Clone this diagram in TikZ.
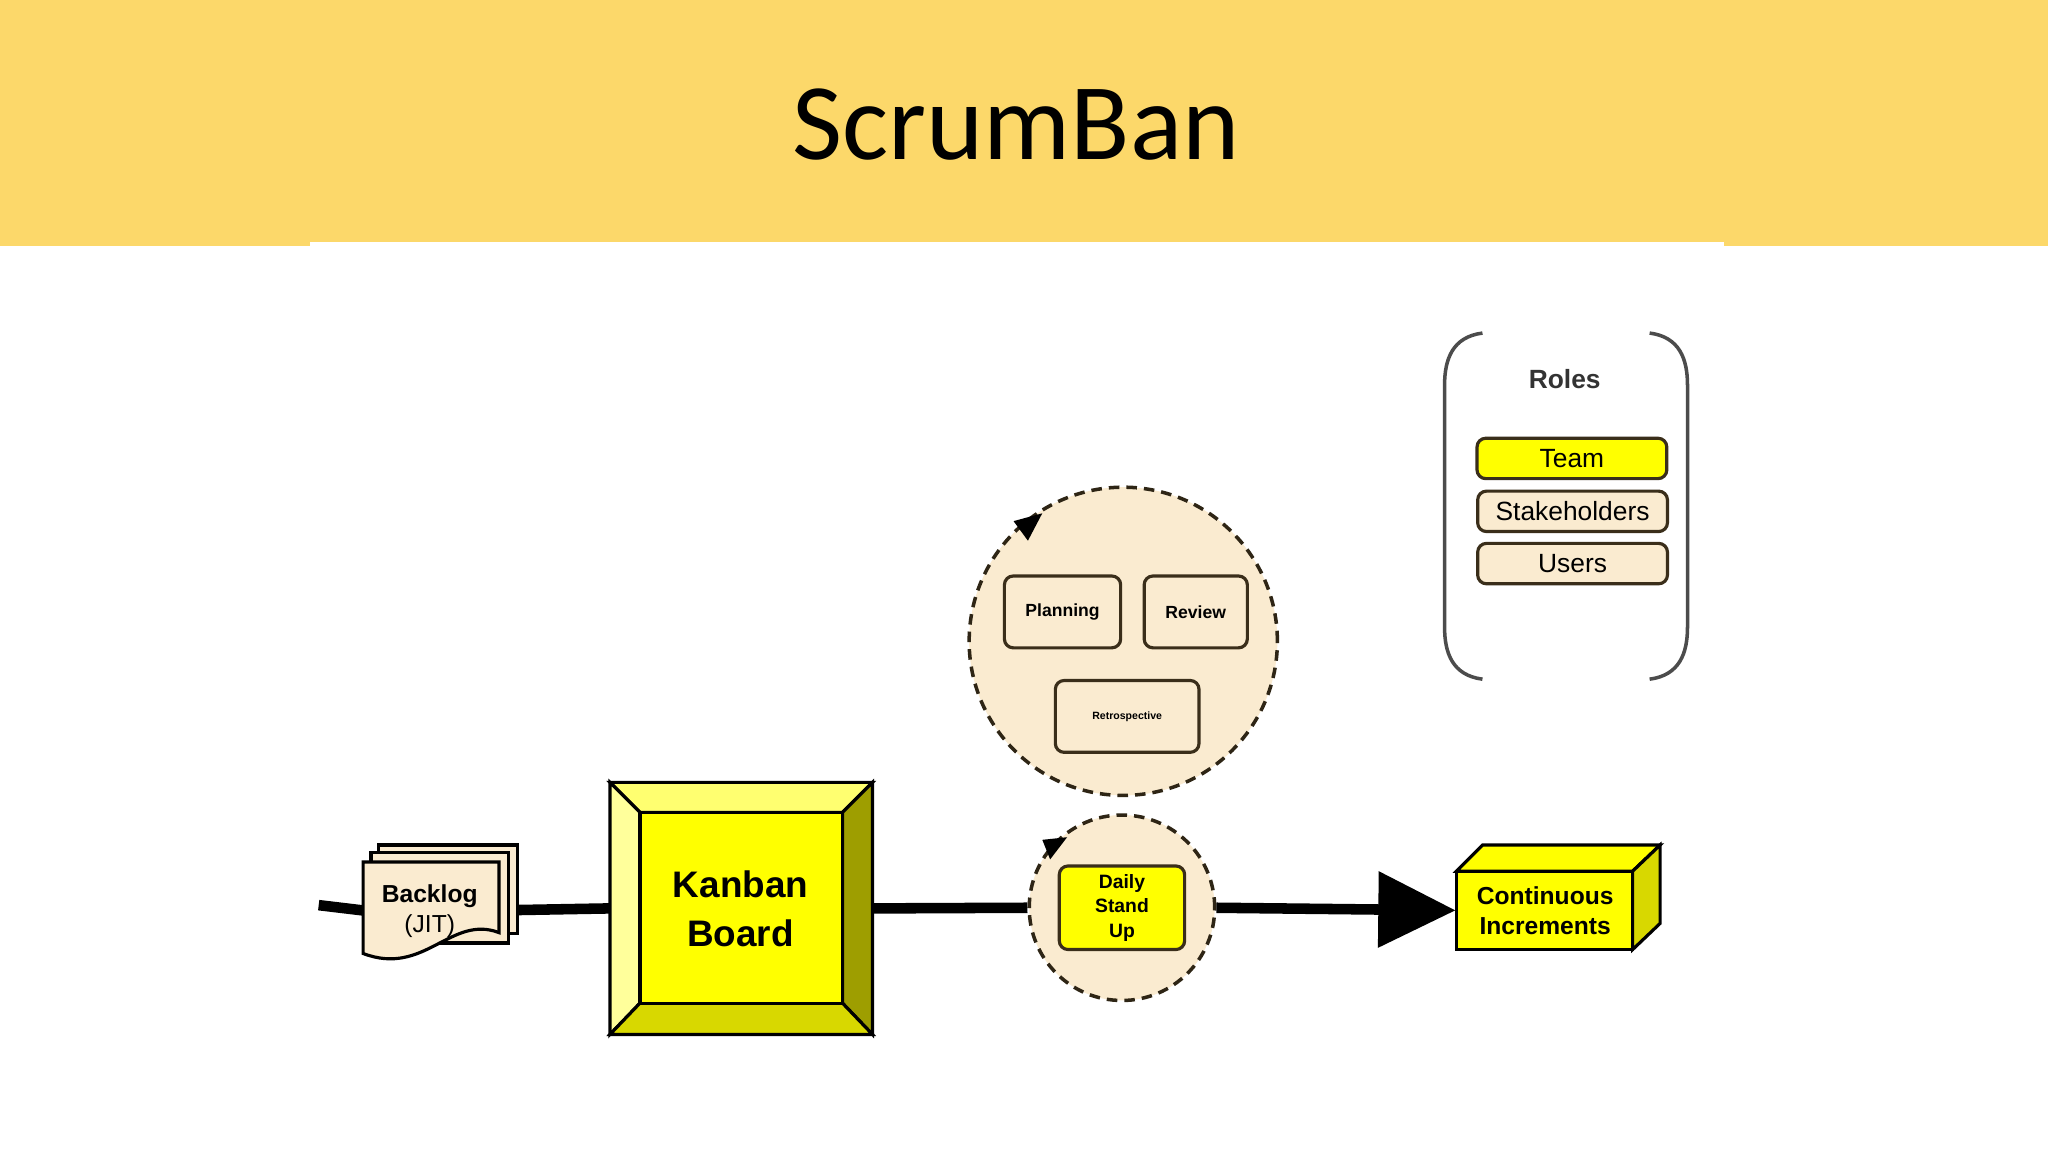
\documentclass[tikz,border=0pt]{standalone}
\usepackage{fontspec}
\setmainfont{Liberation Sans}
\newfontfamily\titlefont{Carlito}
\usetikzlibrary{arrows.meta}
\definecolor{hdr}{HTML}{FCD86A}
\definecolor{beige}{HTML}{FAEBD0}
\definecolor{ylw}{HTML}{FFFF00}
\definecolor{ylwlt}{HTML}{FFFF70}
\definecolor{ylwmid}{HTML}{D8D800}
\definecolor{ylwdk}{HTML}{9E9E00}
\definecolor{brd}{HTML}{3A2E1A}
\tikzset{
  lw/.style={line width=0.9pt},
  evbox/.style={draw=brd, lw, fill=beige, rounded corners=2.5pt, inner sep=0pt, font=\bfseries},
  rolebox/.style={draw=brd, lw, fill=beige, rounded corners=2.5pt, inner sep=0pt, minimum width=54pt, minimum height=11.5pt, font=\fontsize{7.5}{9}\selectfont},
  dashcirc/.style={draw=brd!80!black, line width=1pt, dash pattern=on 3pt off 2pt, fill=beige, circle, inner sep=0pt},
  flow/.style={line width=3pt, black},
}
\begin{document}
\begin{tikzpicture}[x=0.01306cm,y=-0.01306cm]
\useasboundingbox (0,0) rectangle (1568,882);
\fill[white] (0,0) rectangle (1568,882);
\fill[hdr] (0,0) rectangle (1568,188);
\fill[white] (237,185) rectangle (1320,188);
\node[font=\titlefont\fontsize{31}{36}\selectfont] (title) at (778,95) {ScrumBan};

% main line
\coordinate (start) at (244,693);
\node[minimum width=104*0.3716pt, minimum height=75*0.3716pt, inner sep=0pt] (backlog) at (330,697) {};
\node[minimum width=201*0.3716pt, minimum height=193*0.3716pt, inner sep=0pt] (kanban) at (567.5,695.5) {};
\node[dashcirc, minimum size=142*0.3716pt] (daily) at (859,695) {};
\node[minimum width=135*0.3716pt, minimum height=60*0.3716pt, inner sep=0pt] (cont) at (1182.5,697) {};
\draw[flow] (start) -- (backlog.west);
\draw[flow] (backlog.east) -- (kanban.west);
\draw[flow] (kanban.east) -- (daily.west);
\draw[line width=3pt, -{Triangle[length=22pt, width=21pt]}] (daily.east) -- (cont.west);

% backlog pages
\draw[lw, fill=beige] (290,647) rectangle (396,715);
\draw[lw, fill=beige] (284,653) rectangle (389,722);
\draw[lw, fill=beige] (278,660) -- (382,660) -- (382,714) .. controls (345,700) and (325,748) .. (278,730) -- cycle;
\node[font=\bfseries\fontsize{7}{8}\selectfont] (bl1) at (329,686) {Backlog};
\node[font=\fontsize{7}{8}\selectfont] (bl2) at (329,709) {(JIT)};

% kanban bevel
\draw[lw, fill=ylwlt] (467,599) -- (668,599) -- (645,622) -- (490,622) -- cycle;
\draw[lw, fill=ylwlt!70!white] (467,599) -- (490,622) -- (490,768) -- (467,792) -- cycle;
\draw[lw, fill=ylwdk] (668,599) -- (668,792) -- (645,768) -- (645,622) -- cycle;
\draw[lw, fill=ylwmid] (467,792) -- (490,768) -- (645,768) -- (668,792) -- cycle;
\draw[lw, fill=ylw] (490,622) rectangle (645,768);
\node[font=\bfseries\fontsize{10.5}{13}\selectfont, align=center] (kb) at (567,696) {Kanban\\[1pt]Board};

% big circle
\node[dashcirc, minimum size=236*0.3716pt] (ceremonies) at (860,491) {};
\node[evbox, minimum width=89*0.3716pt, minimum height=55*0.3716pt, font=\bfseries\fontsize{5}{6}\selectfont] (plan) at (813.5,468.5) {Planning};
\node[evbox, minimum width=79*0.3716pt, minimum height=55*0.3716pt, font=\bfseries\fontsize{5}{6}\selectfont] (review) at (915.5,468.5) {Review};
\node[evbox, minimum width=110*0.3716pt, minimum height=55*0.3716pt, font=\bfseries\fontsize{3}{4}\selectfont] (retro) at (863,548.5) {Retrospective};
\fill (798,393) -- (776,399) -- (787,414) -- cycle;

% daily
\node[evbox, fill=ylw, minimum width=96*0.3716pt, minimum height=64*0.3716pt, align=center, font=\bfseries\fontsize{5.5}{7}\selectfont] (dsu) at (859,695) {Daily\\Stand\\Up};
\fill (817,641) -- (798,643) -- (804,658) -- cycle;

% continuous increments
\draw[lw, fill=ylw] (1115,667) -- (1135,647) -- (1271,647) -- (1250,667) -- cycle;
\draw[lw, fill=ylwmid] (1250,667) -- (1271,647) -- (1271,707) -- (1250,727) -- cycle;
\draw[lw, fill=ylw] (1115,667) rectangle (1250,727);
\node[font=\bfseries\fontsize{7}{8.5}\selectfont, align=center] (ci) at (1183,697) {Continuous\\Increments};

% roles
\draw[line width=1pt, black!70] (1135,255) .. controls (1112,258) and (1106,275) .. (1106,295) -- (1106,480) .. controls (1106,500) and (1112,517) .. (1135,520);
\draw[line width=1pt, black!70] (1263,255) .. controls (1286,258) and (1292,275) .. (1292,295) -- (1292,480) .. controls (1292,500) and (1286,517) .. (1263,520);
\node[font=\bfseries\fontsize{7.5}{9}\selectfont, text=black!80] (roles) at (1198,290) {Roles};
\node[rolebox, fill=ylw] (team) at (1203.5,351) {Team};
\node[rolebox] (stake) at (1204,391.5) {Stakeholders};
\node[rolebox] (users) at (1204,431.5) {Users};
\end{tikzpicture}
\end{document}
